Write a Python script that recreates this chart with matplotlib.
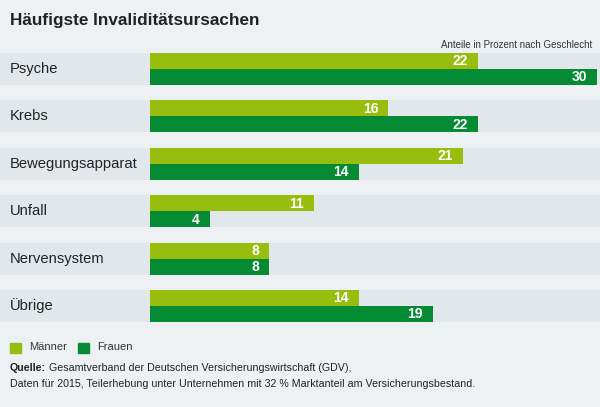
import matplotlib
matplotlib.use("Agg")
import matplotlib.pyplot as plt
from matplotlib.patches import Rectangle

plt.rcParams['font.family'] = ['Liberation Sans', 'DejaVu Sans']

categories = ["Psyche", "Krebs", "Bewegungsapparat", "Unfall", "Nervensystem", "Übrige"]
maenner = [22, 16, 21, 11, 8, 14]
frauen = [30, 22, 14, 4, 8, 19]
series_names = ["Männer", "Frauen"]

c_bg = "#eef1f4"
c_band = "#e2e7eb"
c_light = "#97be0f"
c_dark = "#058b34"
c_text = "#222222"

W, H = 600, 407
fig = plt.figure(figsize=(W / 100, H / 100), dpi=100, facecolor=c_bg)

# axes spans the whole figure; x scale: 0 at 150 px, 14.9 px per unit
px_unit = 14.9
x0 = 150
row_px = 47.4
first_row = 69
ax = fig.add_axes([0, 0, 1, 1])
ax.set_facecolor(c_bg)
ax.set_xlim(-x0 / px_unit, (W - x0) / px_unit)
ax.set_ylim((H - first_row) / row_px, -first_row / row_px)
ax.axis("off")

band_h = 32 / row_px
bar_h = 16 / row_px
pad = 10 / px_unit

for i, cat in enumerate(categories):
    ax.axhspan(i - band_h / 2, i + band_h / 2, color=c_band, lw=0, zorder=0)
    ax.text(10 / px_unit - x0 / px_unit, i, cat, ha="left", va="center",
            fontsize=10.6, color=c_text)

ax.barh([i - bar_h / 2 for i in range(len(categories))], maenner, height=bar_h,
        color=c_light, align="center", zorder=2)
ax.barh([i + bar_h / 2 for i in range(len(categories))], frauen, height=bar_h,
        color=c_dark, align="center", zorder=2)

for i in range(len(categories)):
    ax.text(maenner[i] - pad, i - bar_h / 2 + 0.01, str(maenner[i]), ha="right",
            va="center", color="white", fontsize=10, fontweight="bold", zorder=3)
    ax.text(frauen[i] - pad, i + bar_h / 2 + 0.01, str(frauen[i]), ha="right",
            va="center", color="white", fontsize=10, fontweight="bold", zorder=3)

def fx(px):
    return px / W

def fy(py):
    return 1 - py / H

fig.text(fx(10), fy(20), "Häufigste Invaliditätsursachen", ha="left", va="center",
         fontsize=12.3, fontweight="bold", color=c_text)
fig.text(fx(592), fy(45), "Anteile in Prozent nach Geschlecht", ha="right",
         va="center", fontsize=7, color="#333333")

# legend
for (lx, name, col) in [(10, series_names[0], c_light), (78, series_names[1], c_dark)]:
    fig.patches.append(Rectangle((fx(lx), fy(353)), fx(10.5), 10.5 / H, color=col,
                                 transform=fig.transFigure, figure=fig))
    fig.text(fx(lx + 19), fy(347), name, ha="left", va="center", fontsize=8,
             color="#333333")

t = fig.text(fx(10), fy(368), "Quelle:", ha="left", va="center", fontsize=7.7,
             fontweight="bold", color=c_text)
fig.canvas.draw()
bb = t.get_window_extent()
fig.text(bb.x1 / W + fx(3), fy(368), "Gesamtverband der Deutschen Versicherungswirtschaft (GDV),",
         ha="left", va="center", fontsize=7.7, color=c_text)
fig.text(fx(10), fy(384),
         "Daten für 2015, Teilerhebung unter Unternehmen mit 32 % Marktanteil am Versicherungsbestand.",
         ha="left", va="center", fontsize=7.7, color=c_text)

fig.savefig("out.png", dpi=100, facecolor=c_bg)
